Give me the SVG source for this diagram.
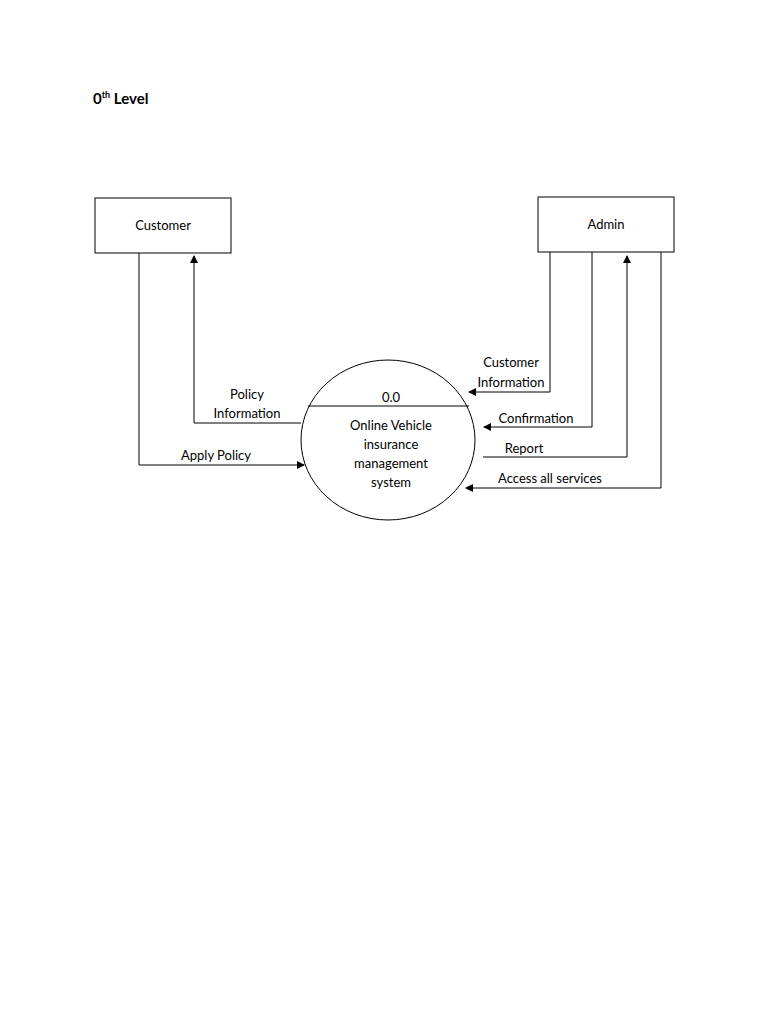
<svg xmlns="http://www.w3.org/2000/svg" width="768" height="1024" viewBox="0 0 768 1024">
<defs>
<marker id="a" markerWidth="8" markerHeight="8" refX="7" refY="4" orient="auto" markerUnits="userSpaceOnUse"><path d="M0,0 L8,4 L0,8 Z" fill="#000"/></marker>
<style>
text{font-family:Lato,"Open Sans",sans-serif;font-size:13px;fill:#000}
.b{fill:#fff;stroke:#000;stroke-width:1}
.c{fill:none;stroke:#000;stroke-width:1;marker-end:url(#a)}
.n{fill:none;stroke:#000;stroke-width:1}
</style>
</defs>
<rect width="768" height="1024" fill="#fff"/>
<text x="93" y="104" style="font-weight:bold;font-size:15px">0<tspan dy="-6" font-size="9">th</tspan><tspan dy="6"> Level</tspan></text>
<g id="customer"><rect class="b" x="95" y="198" width="136" height="55"/><text x="163" y="230" text-anchor="middle">Customer</text></g>
<g id="admin"><rect class="b" x="538" y="197" width="136" height="55"/><text x="606" y="229" text-anchor="middle">Admin</text></g>
<g id="process"><ellipse class="b" cx="388" cy="440" rx="87" ry="80"/><line class="n" x1="308" y1="406" x2="469" y2="406"/>
<text x="391" y="402" text-anchor="middle">0.0</text>
<text x="391" y="430" text-anchor="middle">Online Vehicle</text>
<text x="391" y="449" text-anchor="middle">insurance</text>
<text x="391" y="468" text-anchor="middle">management</text>
<text x="391" y="487" text-anchor="middle">system</text></g>
<g id="connectors">
<path class="c" d="M301,423 H194 V256"/>
<path class="c" d="M139,253 V465 H304"/>
<path class="c" d="M550,252 V392 H469"/>
<path class="c" d="M592,252 V427 H484"/>
<path class="c" d="M483,457 H627 V256"/>
<path class="c" d="M661,252 V488 H466"/>
</g>
<g id="labels">
<text x="247" y="399" text-anchor="middle">Policy</text>
<text x="247" y="418" text-anchor="middle">Information</text>
<text x="216" y="460" text-anchor="middle">Apply Policy</text>
<text x="511" y="367" text-anchor="middle">Customer</text>
<text x="511" y="387" text-anchor="middle">Information</text>
<text x="536" y="423" text-anchor="middle">Confirmation</text>
<text x="524" y="453" text-anchor="middle">Report</text>
<text x="550" y="483" text-anchor="middle">Access all services</text>
</g>
</svg>
